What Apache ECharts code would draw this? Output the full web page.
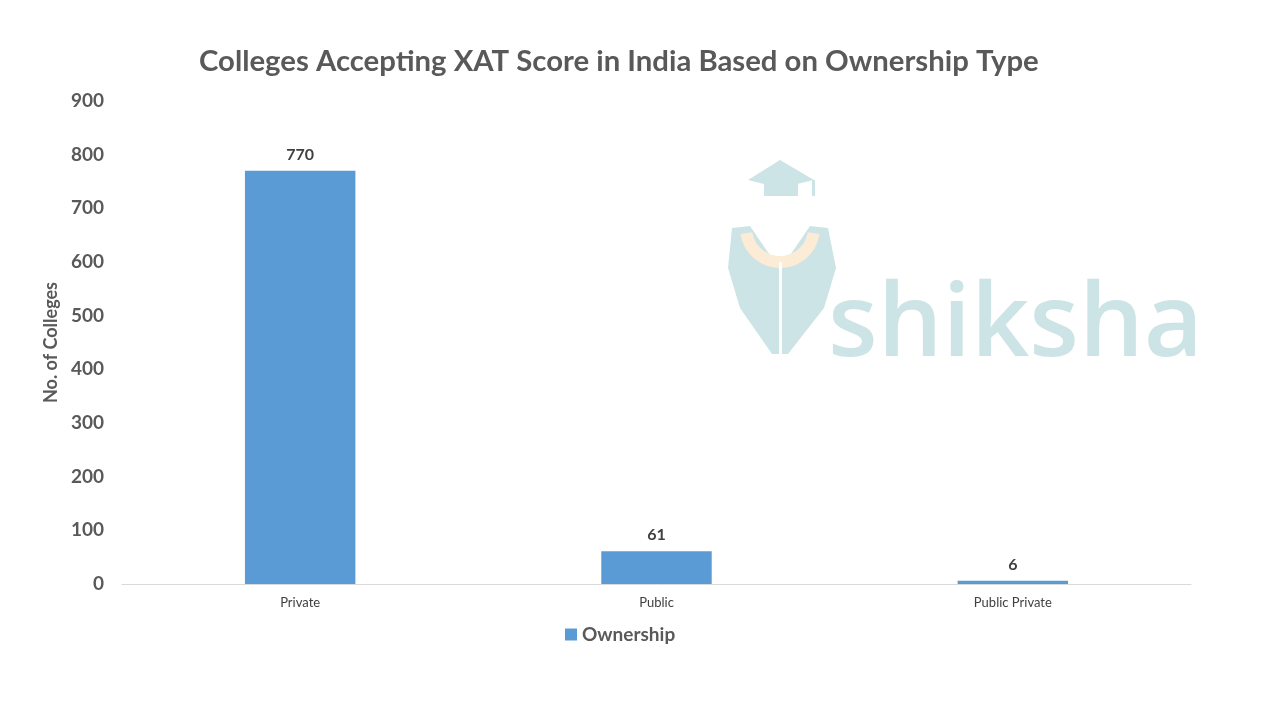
<!DOCTYPE html>
<html>
<head>
<meta charset="utf-8">
<script src="https://cdn.jsdelivr.net/npm/echarts@6/dist/echarts.min.js"></script>
<style>
  html, body { margin: 0; padding: 0; background: #fff; }
  #chart { width: 1280px; height: 720px; }
</style>
</head>
<body>
<div id="chart"></div>
<script>
var categories = ['Private', 'Public', 'Public Private'];
var collegeCounts = [770, 61, 6];
var seriesName = 'Ownership';

var FONT = 'Lato, "Open Sans", sans-serif';
var chart = echarts.init(document.getElementById('chart'));

var option = {
    backgroundColor: '#ffffff',
    animation: false,
    title: {
        text: 'Colleges Accepting XAT Score in India Based on Ownership Type',
        left: 194,
        top: 42,
        textStyle: {
            fontFamily: FONT,
            fontSize: 29.3,
            fontWeight: 'bold',
            color: '#595959'
        }
    },
    legend: {
        data: [seriesName],
        bottom: 71,
        left: 560,
        itemWidth: 12,
        itemHeight: 12,
        itemGap: 5,
        icon: 'rect',
        textStyle: {
            fontFamily: FONT,
            fontSize: 19,
            fontWeight: 'bold',
            color: '#595959'
        }
    },
    grid: {
        left: 122,
        right: 89,
        top: 101,
        bottom: 136
    },
    xAxis: {
        type: 'category',
        data: categories,
        axisLine: { lineStyle: { color: '#d9d9d9', width: 1 } },
        axisTick: { show: false },
        axisLabel: {
            fontFamily: FONT,
            fontSize: 13,
            color: '#404040',
            margin: 12
        }
    },
    yAxis: {
        type: 'value',
        min: 0,
        max: 900,
        interval: 100,
        name: 'No. of Colleges',
        nameLocation: 'middle',
        nameGap: 49,
        nameTextStyle: {
            fontFamily: FONT,
            fontSize: 18,
            fontWeight: 'bold',
            color: '#595959'
        },
        axisLine: { show: false },
        axisTick: { show: false },
        splitLine: { show: false },
        axisLabel: {
            fontFamily: FONT,
            fontSize: 19,
            fontWeight: 'bold',
            color: '#595959',
            margin: 18
        }
    },
    graphic: [
        {
            type: 'group',
            left: 728,
            top: 160,
            silent: true,
            z: -10,
            children: [
                // cap
                { type: 'polygon', shape: { points: [[20, 22], [52, 2], [86, 22], [52, 30]] }, style: { fill: '#cde4e6' } },
                { type: 'rect', shape: { x: 36, y: 22, width: 34, height: 16 }, style: { fill: '#cde4e6' } },
                { type: 'rect', shape: { x: 84, y: 22, width: 3, height: 16 }, style: { fill: '#cde4e6' } },
                // body
                { type: 'polygon', shape: { points: [[4, 70], [22, 68], [52, 112], [82, 68], [100, 70], [108, 110], [96, 150], [60, 196], [52, 196], [44, 196], [12, 150], [0, 110]] }, style: { fill: '#cde4e6' } },
                // collar
                { type: 'arc', shape: { cx: 52, cy: 70, r: 34, startAngle: 0.15, endAngle: Math.PI - 0.15 }, style: { stroke: '#fcebd5', lineWidth: 12, fill: null } },
                { type: 'rect', shape: { x: 51, y: 104, width: 3, height: 92 }, style: { fill: '#ffffff' } }
            ]
        },
        {
            type: 'text',
            left: 828,
            top: 276,
            silent: true,
            z: -10,
            style: {
                text: 'shiksha',
                fontFamily: '"Open Sans", sans-serif',
                fontSize: 102,
                fontWeight: 600,
                fill: '#cde4e6'
            }
        }
    ],
    series: [
        {
            name: seriesName,
            type: 'bar',
            data: collegeCounts,
            barWidth: '31%',
            itemStyle: { color: '#5b9bd5' },
            label: {
                show: true,
                position: 'top',
                distance: 8,
                fontFamily: FONT,
                fontSize: 16,
                fontWeight: 'bold',
                color: '#404040'
            }
        }
    ]
};

chart.setOption(option);
</script>
</body>
</html>
